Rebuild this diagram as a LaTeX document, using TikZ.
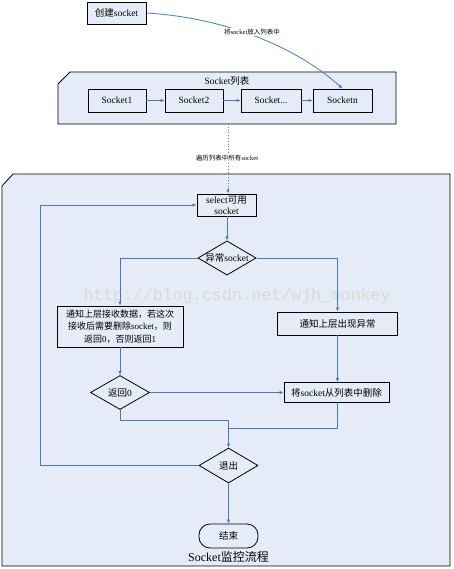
\documentclass[tikz,border=0pt]{standalone}
\usepackage{fontspec}
\setmainfont{Liberation Serif}
\newfontfamily\cjk{Noto Sans CJK SC}
\newfontfamily\wmfont{Liberation Mono}
\usetikzlibrary{shapes.geometric,arrows.meta}
\definecolor{bgc}{HTML}{E6ECF7}
\definecolor{lnc}{HTML}{4A78C2}
\begin{document}
\begin{tikzpicture}[x=1pt,y=-1pt,
  txt/.style={font=\fontsize{9.5}{12}\selectfont},
  tiny/.style={font=\fontsize{6.5}{7}\selectfont, inner sep=1pt},
  boxn/.style={draw=black, fill=bgc, line width=0.8pt, inner sep=0pt, txt, align=center},
  dia/.style={diamond, draw=black, fill=bgc, line width=0.8pt, inner sep=0pt, aspect=1.7, txt},
  flow/.style={draw=lnc, line width=0.8pt, -{Latex[length=4pt,width=3.5pt]}},
  plain/.style={draw=lnc, line width=0.8pt},
  cont/.style={draw=black, fill=bgc, line width=0.8pt}]
\useasboundingbox (0,0) rectangle (454,569);
\fill[white] (0,0) rectangle (454,569);
% containers
\draw[cont] (58,84) -- (70,72) -- (396,72) -- (396,124) -- (58,124) -- cycle;
\draw[cont] (2,186) -- (13,174) -- (450,174) -- (450,566) -- (2,566) -- cycle;
\node[txt] (ltitle) at (227,81) {Socket{\cjk 列表}};
% watermark
\node[font=\fontsize{16.5}{18}\selectfont\wmfont, text=gray!30] (wm) at (237,296) {http://blog.csdn.net/wjh\_monkey};
% nodes
\node[boxn, minimum width=59pt, minimum height=22pt] (create) at (116.5,13) {{\cjk 创建}socket};
\node[boxn, minimum width=58pt, minimum height=23pt] (s1) at (117,100.5) {Socket1};
\node[boxn, minimum width=58pt, minimum height=23pt] (s2) at (194,100.5) {Socket2};
\node[boxn, minimum width=60pt, minimum height=23pt] (sd) at (271,100.5) {Socket...};
\node[boxn, minimum width=59pt, minimum height=23pt] (sn) at (342.5,100.5) {Socketn};
\node[boxn, minimum width=59pt, minimum height=22pt, font=\fontsize{9.5}{11}\selectfont] (sel) at (226.5,205) {select{\cjk 可用}\\socket};
\node[dia, minimum width=58pt, minimum height=34pt] (exc) at (227,258) {{\cjk 异常}socket};
\node[boxn, minimum width=126pt, minimum height=41pt, font=\fontsize{9}{12.5}\selectfont] (lb) at (120,326.5) {{\cjk 通知上层接收数据，若这次}\\{\cjk 接收后需要删除}socket{\cjk ，则}\\{\cjk 返回}0{\cjk ，否则返回}1};
\node[boxn, minimum width=120pt, minimum height=23pt] (rb) at (337.5,323.5) {{\cjk 通知上层出现异常}};
\node[dia, minimum width=59pt, minimum height=34pt] (r0) at (120,392.5) {{\cjk 返回}0};
\node[boxn, minimum width=105pt, minimum height=20pt] (del) at (336.5,392.5) {{\cjk 将}socket{\cjk 从列表中删除}};
\node[dia, minimum width=59pt, minimum height=35pt] (quit) at (228.5,465.5) {{\cjk 退出}};
\node[boxn, minimum width=59pt, minimum height=24pt, rounded corners=11pt] (endn) at (228.5,536) {{\cjk 结束}};
\node[font=\fontsize{12}{14}\selectfont] (cap) at (228.5,557) {Socket{\cjk 监控流程}};
% connectors
\draw[flow] (create.east) .. controls (230,18) and (300,50) .. (sn.north);
\node[tiny, fill=white] (l1) at (252,32) {{\cjk 将}socket{\cjk 放入列表中}};
\draw[flow] (s1) -- (s2);
\draw[flow] (s2) -- (sd);
\draw[flow] (sd) -- (sn);
\coordinate (lbot) at (228,124);
\draw[flow, dotted] (lbot) -- (lbot |- sel.north);
\node[tiny, fill=white] (l2) at (227,158) {{\cjk 遍历列表中所有}socket};
\draw[flow] (sel.south -| exc.north) -- (exc.north);
\draw[flow] (exc.west) -| (lb.north);
\draw[flow] (exc.east) -| (rb.north);
\draw[flow] (lb.south) -- (r0.north);
\draw[flow] (rb.south) -- (rb.south |- del.north);
\draw[flow] (r0.east) -- (del.west);
\coordinate (j1) at (228.5,420);
\coordinate (j2) at (228.5,428);
\draw[flow] (r0.south) |- (j1) -- (quit.north);
\draw[plain] (rb.south |- del.south) |- (j2);
\coordinate (lp) at (40,0);
\draw[flow] (quit.west) -- (quit.west -| lp) -- (sel.west -| lp) -- (sel.west);
\draw[flow] (quit.south) -- (endn.north);
\end{tikzpicture}
\end{document}
